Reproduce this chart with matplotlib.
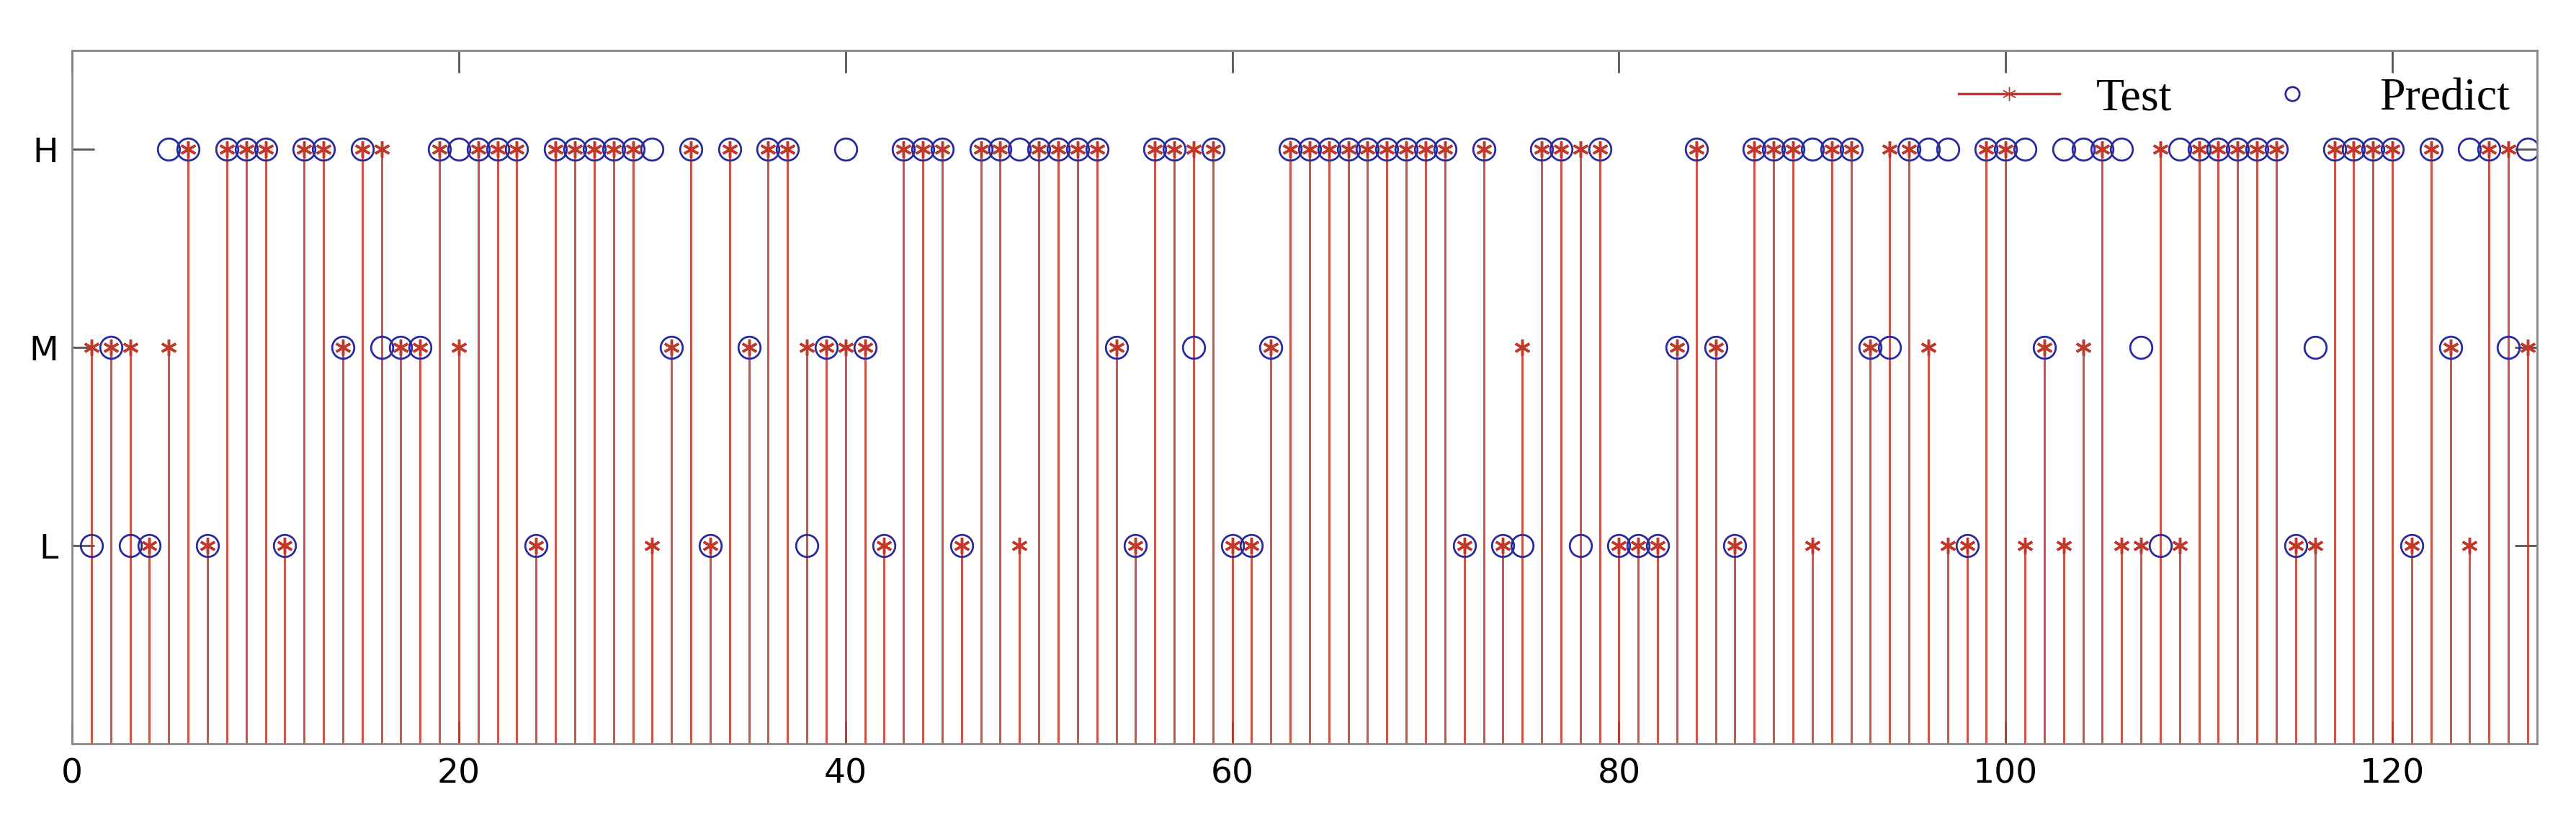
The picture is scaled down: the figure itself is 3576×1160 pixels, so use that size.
import numpy as np
import matplotlib
matplotlib.use('Agg')
import matplotlib.pyplot as plt
from matplotlib.lines import Line2D

# 1 = L, 2 = M, 3 = H ; sample index 1..127
test = [2, 2, 2, 1, 2, 3, 1, 3, 3, 3, 1, 3, 3, 2, 3, 3, 2, 2, 3, 2,
        3, 3, 3, 1, 3, 3, 3, 3, 3, 1, 2, 3, 1, 3, 2, 3, 3, 2, 2, 2,
        2, 1, 3, 3, 3, 1, 3, 3, 1, 3, 3, 3, 3, 2, 1, 3, 3, 3, 3, 1,
        1, 2, 3, 3, 3, 3, 3, 3, 3, 3, 3, 1, 3, 1, 2, 3, 3, 3, 3, 1,
        1, 1, 2, 3, 2, 1, 3, 3, 3, 1, 3, 3, 2, 3, 3, 2, 1, 1, 3, 3,
        1, 2, 1, 2, 3, 1, 1, 3, 1, 3, 3, 3, 3, 3, 1, 1, 3, 3, 3, 3,
        1, 3, 2, 1, 3, 3, 2]
predict = [1, 2, 1, 1, 3, 3, 1, 3, 3, 3, 1, 3, 3, 2, 3, 2, 2, 2, 3, 3,
           3, 3, 3, 1, 3, 3, 3, 3, 3, 3, 2, 3, 1, 3, 2, 3, 3, 1, 2, 3,
           2, 1, 3, 3, 3, 1, 3, 3, 3, 3, 3, 3, 3, 2, 1, 3, 3, 2, 3, 1,
           1, 2, 3, 3, 3, 3, 3, 3, 3, 3, 3, 1, 3, 1, 1, 3, 3, 1, 3, 1,
           1, 1, 2, 3, 2, 1, 3, 3, 3, 3, 3, 3, 2, 2, 3, 3, 3, 1, 3, 3,
           3, 2, 3, 3, 3, 3, 2, 1, 3, 3, 3, 3, 3, 3, 1, 2, 3, 3, 3, 3,
           1, 3, 2, 3, 3, 2, 3]
level_labels = ['L', 'M', 'H']

x = np.arange(1, len(test) + 1)
red = '#c0392b'
blue = '#2a2aa0'
asterisk = (6, 2, 0)

fig = plt.figure(figsize=(35.76, 11.6), dpi=100)
ax = fig.add_axes([0.028, 0.11, 0.957, 0.83])

ax.vlines(x, 0, test, color=red, lw=2.2, alpha=0.85)
ax.plot(x, test, ls='none', marker=asterisk, ms=16, mec=red, mew=2.5)
ax.plot(x, predict, ls='none', marker='o', ms=22, mfc='none', mec=blue, mew=2)

ax.set_xlim(0, 127.5)
ax.set_ylim(0, 3.5)
ax.set_xticks(np.arange(0, 121, 20))
ax.set_yticks([1, 2, 3])
ax.set_yticklabels(level_labels)
ax.tick_params(direction='in', length=22, width=2, colors='#555555',
               labelcolor='black', labelsize=34, top=True, right=True, pad=14)
for s in ax.spines.values():
    s.set_color('#888888')
    s.set_linewidth(2)

handles = [Line2D([0, 1], [0, 0], color=red, lw=2.5, marker=asterisk, ms=14,
                  mec=red, markevery=[1]),
           Line2D([], [], ls='none', marker='o', ms=14, mfc='none', mec=blue, mew=2)]
ax.legend(handles, ['Test', 'Predict'], loc='upper right', ncol=2, frameon=False,
          prop={'family': 'Liberation Serif', 'size': 46}, handlelength=2.2,
          columnspacing=1.5, borderaxespad=0.2)

fig.savefig('out.png', dpi=100)
